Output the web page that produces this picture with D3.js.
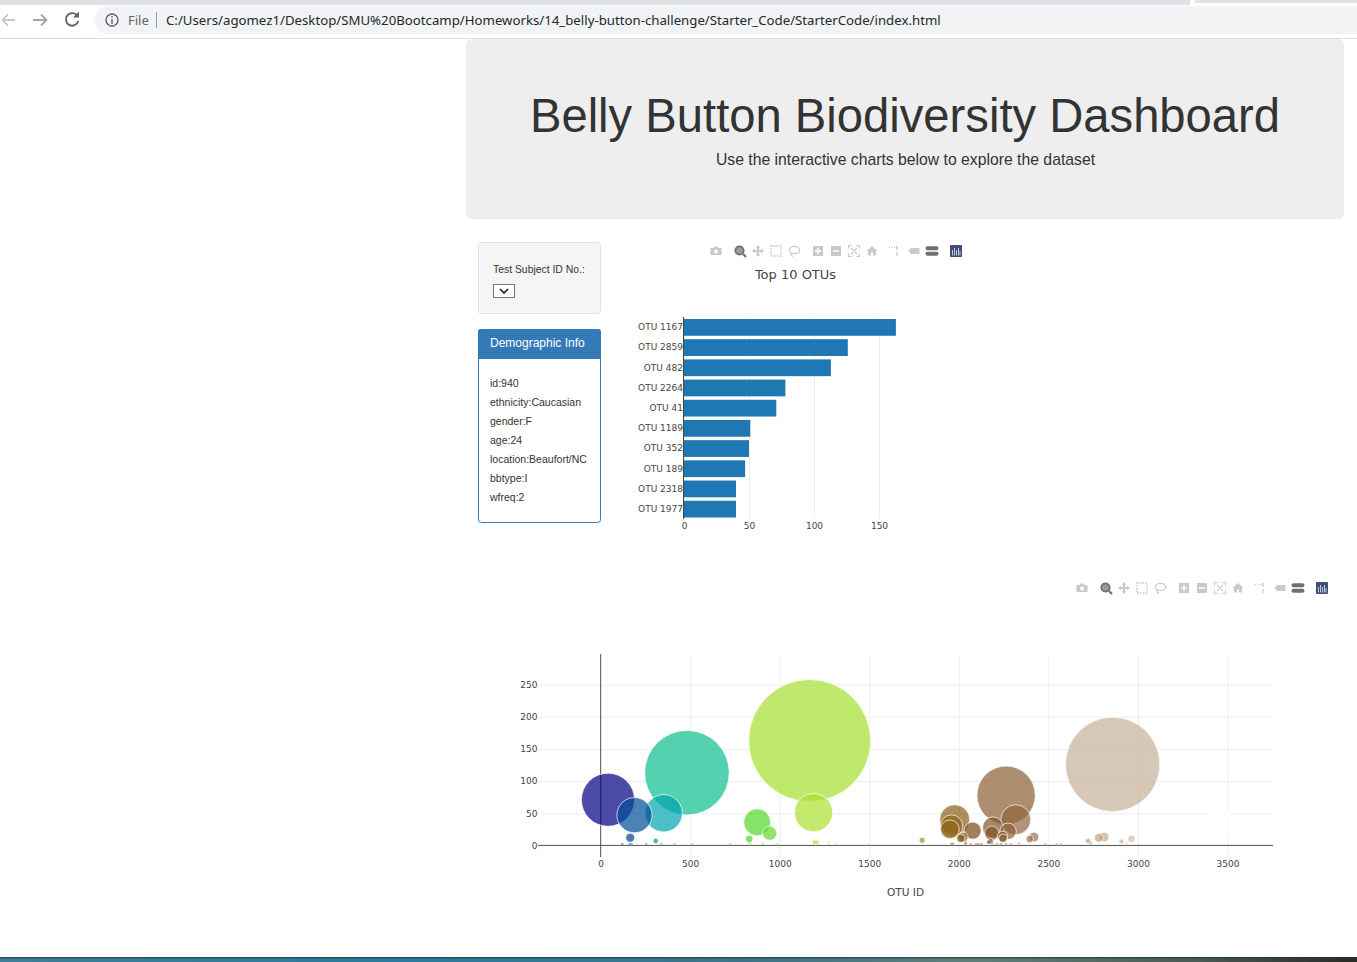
<!DOCTYPE html>
<html>
<head>
<meta charset="utf-8">
<title>Belly Button Biodiversity Dashboard</title>
<script src="https://cdn.jsdelivr.net/npm/d3@7"></script>
<style>
html,body{margin:0;padding:0;background:#fff;overflow:hidden}
svg{display:block}
text{font-family:"Liberation Sans",Arial,sans-serif}
.plot text{font-family:"DejaVu Sans",Verdana,sans-serif;fill:#444}
.domain{display:none}
</style>
</head>
<body>
<svg id="page" width="1357" height="962"></svg>
<script>
// ---- data ----
const urlText = "C:/Users/agomez1/Desktop/SMU%20Bootcamp/Homeworks/14_belly-button-challenge/Starter_Code/StarterCode/index.html";
const pageTitle = "Belly Button Biodiversity Dashboard";
const pageLead = "Use the interactive charts below to explore the dataset";
const selectLabel = "Test Subject ID No.:";
const panelTitle = "Demographic Info";
const demoLines = ["id:940","ethnicity:Caucasian","gender:F","age:24","location:Beaufort/NC","bbtype:I","wfreq:2"];

const topLabels = ["OTU 1167","OTU 2859","OTU 482","OTU 2264","OTU 41","OTU 1189","OTU 352","OTU 189","OTU 2318","OTU 1977"];
const topValues = [163,126,113,78,71,51,50,47,40,40];
const barTicks = [0,50,100,150];

const otuIds = [1167,2859,482,2264,41,1189,352,189,2318,1977,3450,874,1959,2191,1950,2077,2275,944,2184,2244,2024,2419,2811,165,2782,2247,2011,2396,830,2964,1795,2722,307,2178,2908,1193,2167,1208,2039,1274,2739,2737,1314,1962,2186,2335,2936,907,833,2483,412,2037,2213,1199,2263,982,2127,2110,2096,1958,1968,2065,121,162,173,255,340,512,724,1497,2235,2290,2546,2570];
const otuValues = [163,126,113,78,71,51,50,47,40,40,37,36,30,28,25,23,22,19,19,14,13,13,13,12,12,11,11,10,10,10,8,7,7,7,6,5,5,5,4,4,4,3,3,3,3,3,3,3,2,2,2,2,2,2,2,2,2,2,2,2,2,2,2,2,2,2,2,2,2,2,2,2,2,2];
const bubbleXTicks = [0,500,1000,1500,2000,2500,3000,3500];
const bubbleYTicks = [0,50,100,150,200,250];
const xAxisTitle = "OTU ID";
const barTitle = "Top 10 OTUs";

// ---- page chrome ----
const svg = d3.select("#page");
const wall = svg.append("defs").append("linearGradient").attr("id","wall");
[[0,"#3f7f97"],[.3,"#2b7a9d"],[.55,"#3b7488"],[.72,"#5e7f78"],[.88,"#4a5a55"],[1,"#2a2a26"]].forEach(s=>wall.append("stop").attr("offset",s[0]).attr("stop-color",s[1]));

svg.append("rect").attr("x",0).attr("y",0).attr("width",1190).attr("height",5).attr("fill","#dee1e6");
svg.append("rect").attr("x",1195).attr("y",0).attr("width",162).attr("height",3).attr("fill","#dee1e6");
svg.append("rect").attr("x",94).attr("y",6).attr("width",1300).attr("height",28).attr("rx",14).attr("fill","#f1f3f4");
svg.append("rect").attr("x",0).attr("y",38).attr("width",1357).attr("height",1).attr("fill","#dadce0");
svg.append("path").attr("d","M15 20H3M8 14.5L2.5 20L8 25.5").attr("fill","none").attr("stroke","#c6c8cb").attr("stroke-width",1.8);
svg.append("path").attr("d","M33 20H46M41 14.5L46.5 20L41 25.5").attr("fill","none").attr("stroke","#a3a5a8").attr("stroke-width",1.8);
svg.append("path").attr("d","M77.5 16A6.3 6.3 0 1 0 78.3 21").attr("fill","none").attr("stroke","#5f6368").attr("stroke-width",1.9);
svg.append("path").attr("d","M79 11.5V17.5H73Z").attr("fill","#5f6368");
svg.append("circle").attr("cx",112).attr("cy",20).attr("r",6).attr("fill","none").attr("stroke","#5f6368").attr("stroke-width",1.4);
svg.append("path").attr("d","M112 19V24M112 16V17.6").attr("stroke","#5f6368").attr("stroke-width",1.4);
svg.append("text").attr("x",128).attr("y",25).attr("fill","#5f6368").style("font-family","'Noto Sans'").style("font-size","13px").text("File");
svg.append("rect").attr("x",156).attr("y",12).attr("width",1).attr("height",16).attr("fill","#9a9da1");
svg.append("text").attr("x",166).attr("y",25).attr("fill","#26282b").style("font-family","'Noto Sans'").style("font-size","13.22px").text(urlText);
svg.append("rect").attr("x",0).attr("y",957).attr("width",1357).attr("height",5).attr("fill","url(#wall)");
svg.append("rect").attr("x",0).attr("y",957).attr("width",1357).attr("height",1.5).attr("fill","#22343c").attr("opacity",.6);

// jumbotron
svg.append("rect").attr("x",466).attr("y",39).attr("width",878).attr("height",180).attr("rx",6).attr("fill","#eeeeee");
svg.append("text").attr("x",905).attr("y",131.5).attr("text-anchor","middle").attr("fill","#333").style("font-size","47.2px").text(pageTitle);
svg.append("text").attr("x",905.5).attr("y",165).attr("text-anchor","middle").attr("fill","#333").style("font-size","15.75px").text(pageLead);

// select well
svg.append("rect").attr("x",478.5).attr("y",242.5).attr("width",122).attr("height",71).attr("rx",3).attr("fill","#f5f5f5").attr("stroke","#e3e3e3");
svg.append("text").attr("x",493).attr("y",273).attr("fill","#333").style("font-size","10.4px").text(selectLabel);
svg.append("rect").attr("x",493.5).attr("y",284.5).attr("width",21).attr("height",13).attr("fill","#fff").attr("stroke","#767676");
svg.append("path").attr("d","M500 289L504 293L508 289").attr("fill","none").attr("stroke","#222").attr("stroke-width",1.7);

// demographic panel
svg.append("rect").attr("x",478.5).attr("y",329.5).attr("width",122).attr("height",193).attr("rx",3).attr("fill","#fff").attr("stroke","#337ab7");
svg.append("path").attr("d","M478 359V332a3 3 0 0 1 3-3H598a3 3 0 0 1 3 3V359Z").attr("fill","#337ab7");
svg.append("text").attr("x",490).attr("y",347).attr("fill","#fff").style("font-size","12px").text(panelTitle);
const demoY = d3.scalePoint().domain(demoLines).range([387,501]);
svg.append("g").selectAll("text").data(demoLines).join("text")
  .attr("x",490).attr("y",d=>demoY(d)).attr("fill","#333").style("font-size","10.5px").text(d=>d);

// ---- plotly style mode bar ----
function modebar(x0,y0){
  const g = svg.append("g").attr("transform",`translate(${x0},${y0})`);
  const grey="#c9c9c9", dark="#6f6f6f";
  const at=(dx)=>g.append("g").attr("transform",`translate(${dx},0)`);
  let i;
  i=at(0); i.append("path").attr("d","M-5.5-3H-2.5L-1.5-4.5H1.5L2.5-3H5.5V4H-5.5Z").attr("fill",grey); i.append("circle").attr("r",2).attr("cy",.4).attr("fill","#fff");
  i=at(24); i.append("circle").attr("cx",-.5).attr("cy",-.5).attr("r",4.2).attr("fill","#9a9a9a").attr("stroke",dark).attr("stroke-width",1.8); i.append("path").attr("d","M3 3L6 6").attr("stroke",dark).attr("stroke-width",2.2);
  i=at(42); i.append("path").attr("d","M-4.5 0H4.5M0-4.5V4.5").attr("stroke",grey).attr("stroke-width",2); i.append("path").attr("d","M-3.5-2V2L-5.5 0ZM3.5-2V2L5.5 0ZM-2-3.5H2L0-5.5ZM-2 3.5H2L0 5.5Z").attr("fill",grey).attr("stroke",grey).attr("stroke-width",.5);
  i=at(60); i.append("rect").attr("x",-5).attr("y",-5).attr("width",10).attr("height",10).attr("fill","none").attr("stroke",grey).attr("stroke-width",1.3).attr("stroke-dasharray","1.6 1.2");
  i=at(78); i.append("ellipse").attr("cx",.5).attr("cy",-1).attr("rx",5.2).attr("ry",3.6).attr("fill","none").attr("stroke",grey).attr("stroke-width",1.2); i.append("path").attr("d","M-3 2Q-3 5-1 5.5").attr("fill","none").attr("stroke",grey).attr("stroke-width",1.2);
  i=at(102); i.append("rect").attr("x",-5).attr("y",-5).attr("width",10).attr("height",10).attr("fill",grey); i.append("path").attr("d","M-3 0H3M0-3V3").attr("stroke","#fff").attr("stroke-width",1.6);
  i=at(120); i.append("rect").attr("x",-5).attr("y",-5).attr("width",10).attr("height",10).attr("fill",grey); i.append("path").attr("d","M-3 0H3").attr("stroke","#fff").attr("stroke-width",1.6);
  i=at(138); i.append("path").attr("d","M-5.5-2.5V-5.5H-2.5M2.5-5.5H5.5V-2.5M5.5 2.5V5.5H2.5M-2.5 5.5H-5.5V2.5M-3-3L3 3M3-3L-3 3").attr("fill","none").attr("stroke",grey).attr("stroke-width",1.1);
  i=at(156); i.append("path").attr("d","M0-5L5.5 0H4V4.5H1V1.5H-1V4.5H-4V0H-5.5Z").attr("fill",grey);
  i=at(178); i.append("path").attr("d","M-5-3.5H-4M-2.5-3.5H-1.5M0-3.5H1M3-5V-1.5M3 1V2").attr("stroke",grey).attr("stroke-width",1.6); i.append("path").attr("d","M3 2V5").attr("stroke",grey).attr("stroke-width",1.2);
  i=at(198); i.append("path").attr("d","M-5.5 0L-3-3H5.5V3H-3Z").attr("fill",grey);
  i=at(216); i.append("path").attr("d","M-4.5-2.8H4.5M-4.5 2.8H4.5").attr("stroke",dark).attr("stroke-width",4).attr("stroke-linecap","round");
  i=at(240); i.append("rect").attr("x",-6).attr("y",-6).attr("width",12).attr("height",12).attr("rx",1).attr("fill","#3f4f75");
  i.append("path").attr("d","M-3.5 4.5V-1M-1.5 4.5V-3M0.5 4.5V-1M2.5 4.5V-3M4 4.5V0").attr("stroke","#c6cbd8").attr("stroke-width",1);
}
modebar(716,251);
modebar(1082,588);

// ---- bar chart ----
const bar = svg.append("g").attr("class","plot");
const barX = d3.scaleLinear().domain([0,170]).range([684,905]);
const barY = d3.scaleBand().domain(topLabels).range([317.3,519.2]).paddingInner(.17).paddingOuter(.085);

bar.append("g").attr("transform","translate(0,519)")
  .call(d3.axisBottom(barX).tickValues(barTicks).tickFormat(d3.format("d")).tickSize(-202).tickPadding(4))
  .call(g=>g.selectAll(".tick line").attr("stroke","#eeeeee"))
  .call(g=>g.selectAll(".tick text").style("font-size","9px").attr("fill","#444"));
bar.selectAll("rect.bar").data(topLabels).join("rect").attr("class","bar")
  .attr("x",barX(0)).attr("y",d=>barY(d))
  .attr("width",(d,i)=>barX(topValues[i])-barX(0)).attr("height",barY.bandwidth())
  .attr("fill","#1f77b4");
bar.append("g").attr("transform","translate(684,0)")
  .call(d3.axisLeft(barY).tickSize(0).tickPadding(1))
  .call(g=>g.selectAll(".tick text").style("font-size","9px").attr("fill","#444"));
bar.append("line").attr("x1",683.5).attr("x2",683.5).attr("y1",317).attr("y2",519).attr("stroke","#444");
bar.append("text").attr("x",795.5).attr("y",279).attr("text-anchor","middle").style("font-size","13px").text(barTitle);

// ---- bubble chart ----
const bub = svg.append("g").attr("class","plot");
const bx = d3.scaleLinear().domain([-352,3752]).range([537.6,1272.6]);
const by = d3.scaleLinear().domain([-18,296]).range([857,655]);
const br = d3.scaleLinear().domain([0,163]).range([0,61]);
const earth = d3.scaleLinear()
  .domain([.0,.1,.2,.4,.6,1].map(t=>41+t*(3450-41)))
  .range(["rgb(0,0,130)","rgb(0,180,180)","rgb(40,210,40)","rgb(230,230,50)","rgb(120,70,20)","rgb(255,255,255)"]);

bub.append("g").attr("transform","translate(0,857)")
  .call(d3.axisBottom(bx).tickValues(bubbleXTicks).tickFormat(d3.format("d")).tickSize(-202).tickPadding(4))
  .call(g=>g.selectAll(".tick line").attr("stroke","#eeeeee"))
  .call(g=>g.selectAll(".tick text").style("font-size","9px").attr("fill","#444"));
bub.append("g").attr("transform","translate(538,0)")
  .call(d3.axisLeft(by).tickValues(bubbleYTicks).tickSize(-735).tickPadding(1))
  .call(g=>g.selectAll(".tick text").attr("dx",".5"))
  .call(g=>g.selectAll(".tick line").attr("stroke","#eeeeee"))
  .call(g=>g.selectAll(".tick text").style("font-size","9px").attr("fill","#444"));
bub.append("line").attr("x1",538).attr("x2",1273).attr("y1",by(0)).attr("y2",by(0)).attr("stroke","#555");
bub.append("line").attr("x1",bx(0)).attr("x2",bx(0)).attr("y1",654).attr("y2",857).attr("stroke","#555");
bub.append("g").selectAll("circle").data(otuIds).join("circle")
  .attr("cx",d=>bx(d)).attr("cy",(d,i)=>by(otuValues[i])).attr("r",(d,i)=>Math.max(br(otuValues[i]),1.3))
  .attr("fill",d=>earth(d)).attr("fill-opacity",(d,i)=>otuValues[i]>4?.7:.4)
  .attr("stroke","#fff").attr("stroke-opacity",.7).attr("stroke-width",(d,i)=>otuValues[i]>6?1:.2);
bub.append("text").attr("x",905.5).attr("y",896).attr("text-anchor","middle").style("font-size","10.6px").text(xAxisTitle);
</script>
</body>
</html>
